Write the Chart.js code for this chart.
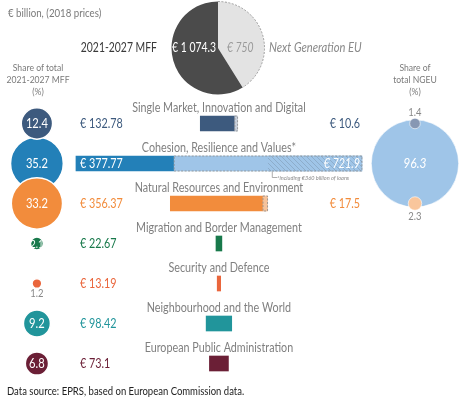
<!DOCTYPE html>
<html><head><meta charset="utf-8">
<script src="https://cdn.jsdelivr.net/npm/chart.js@4/dist/chart.umd.min.js"></script>
<style>
html,body{margin:0;padding:0;background:#fff;}
#wrap{position:relative;width:474px;height:404px;overflow:hidden;font-family:Lato,sans-serif;}
canvas{position:absolute;left:0;top:0;}
.t{position:absolute;white-space:nowrap;color:#7a7a7a;transform-origin:0 0;}
.h{position:absolute;text-align:center;font-size:10px;line-height:12px;color:#7a7a7a;transform:scaleX(0.86);transform-origin:50% 0;}
</style></head><body>
<div id="wrap">
<canvas id="main" width="474" height="404"></canvas>
<canvas id="pie" width="474" height="100"></canvas>
<div class="t" style="left:8px;top:6px;font-size:11px;transform:scaleX(0.88);">€ billion, (2018 prices)</div>
<div class="h" style="left:0;width:76px;top:61px;">Share of total<br>2021-2027 MFF<br>(%)</div>
<div class="h" style="left:384px;width:62px;top:61px;">Share of<br>total NGEU<br>(%)</div>
<div class="t" style="left:7px;top:385px;font-size:10.5px;color:#222;transform:scaleX(0.905);">Data source: EPRS, based on European Commission data.</div>
</div>
<script>
const categories = ['Single Market, Innovation and Digital','Cohesion, Resilience and Values*','Natural Resources and Environment','Migration and Border Management','Security and Defence','Neighbourhood and the World','European Public Administration'];
const mffValues = [132.78, 377.77, 356.37, 22.67, 13.19, 98.42, 73.1];
const ngeuValues = [10.6, 721.9, 17.5, 0, 0, 0, 0];
const ngeuLoans = [0, 360, 0, 0, 0, 0, 0];
const mffShares = [12.4, 35.2, 33.2, 2.1, 1.2, 9.2, 6.8];
const ngeuShares = [1.4, 96.3, 2.3, 0, 0, 0, 0];
const pieLabels = ['Next Generation EU', '2021-2027 MFF'];
const pieValues = [750, 1074.3];
const colors = ['#3d5a7e','#2380b8','#f28c3c','#18794b','#ea663c','#21959b','#6b1f36'];
const lightColors = ['#c9d1dd','#9fc5e8','#f6c39b','#cde','#cde','#cde','#cde'];
const ngeuBubbleColors = ['#8797b3','#9fc5e8','#f9c69c'];

const FONT = 'Lato, sans-serif';
const K = 4.45;          // bubble radius per sqrt(share)
const LEFT_COL = -700, RIGHT_COL = 754;
const CONDENSE = 0.86;

function fmt(v){
  const s = String(v).split('.');
  const int = s[0].replace(/\B(?=(\d{3})+(?!\d))/g,' ');
  return '€ ' + int + (s[1] ? '.' + s[1] : '');
}
function txt(ctx, s, x, y, font, color, align, cond){
  cond = cond || CONDENSE;
  ctx.save();
  ctx.font = font; ctx.fillStyle = color; ctx.textBaseline = 'middle';
  ctx.translate(x, y); ctx.scale(cond, 1);
  ctx.textAlign = align || 'left';
  ctx.fillText(s, 0, 0);
  ctx.restore();
}

const tot = i => mffValues[i] + ngeuValues[i];
const mffData = categories.map((c,i)=>({y:i, x:[-tot(i)/2, -tot(i)/2 + mffValues[i]]}));
const ngeuData = categories.map((c,i)=>({y:i, x:[-tot(i)/2 + mffValues[i], tot(i)/2]})).filter(d=>ngeuValues[d.y]>0);
const loanData = categories.map((c,i)=>({y:i, x:[tot(i)/2 - ngeuLoans[i], tot(i)/2]})).filter(d=>ngeuLoans[d.y]>0);
const leftOrder = categories.map((c,i)=>i).sort((a,b)=>mffShares[b]-mffShares[a]);
const leftBubbles = leftOrder.map(i=>({x:LEFT_COL, y:i, r:K*Math.sqrt(mffShares[i])}));
const rightOrder = categories.map((c,i)=>i).filter(i=>ngeuShares[i]>0).sort((a,b)=>ngeuShares[b]-ngeuShares[a]);
const rightBubbles = rightOrder.map(i=>({x:RIGHT_COL, y:i, r:K*Math.sqrt(ngeuShares[i])}));

// hatch pattern
const pc = document.createElement('canvas'); pc.width = 5; pc.height = 5;
const pctx = pc.getContext('2d');
pctx.fillStyle = '#9fc5e8'; pctx.fillRect(0,0,5,5);
pctx.strokeStyle = 'rgba(110,130,150,0.5)'; pctx.lineWidth = 0.7;
pctx.beginPath(); pctx.moveTo(-1,-1); pctx.lineTo(6,6); pctx.stroke();
const hatch = document.getElementById('main').getContext('2d').createPattern(pc,'repeat');

const labelPlugin = {
  id:'labels',
  afterDatasetsDraw(chart){
    const ctx = chart.ctx, ys = chart.scales.y, xs = chart.scales.x;
    const m1 = chart.getDatasetMeta(1);
    ctx.save();
    ctx.setLineDash([2,1.5]); ctx.strokeStyle = '#8a8a8a'; ctx.lineWidth = 0.8;
    m1.data.forEach(el=>{
      const p = el.getProps(['x','y','base','height'], true);
      ctx.strokeRect(p.base, p.y - p.height/2, p.x - p.base, p.height);
    });
    ctx.restore();
    const cx = xs.getPixelForValue(0);
    categories.forEach((c,i)=>{
      const y = ys.getPixelForValue(i);
      txt(ctx, c, cx, y - 15.5, '12.5px '+FONT, '#808080', 'center');
      const inside = mffValues[i] > 300 && ngeuValues[i] > 300;
      txt(ctx, fmt(mffValues[i]), 80, y, '13px '+FONT, inside ? '#fff' : colors[i], 'left', 0.83);
      if (ngeuValues[i] > 0) {
        const big = ngeuValues[i] > 300;
        txt(ctx, fmt(ngeuValues[i]), 360, y, (big?'italic ':'') + '13px '+FONT, big ? '#fff' : colors[i], 'right', 0.83);
      }
      if (ngeuLoans[i] > 0) {
        const lx = xs.getPixelForValue(tot(i)/2 - ngeuLoans[i]) + 4;
        ctx.save(); ctx.strokeStyle = '#999'; ctx.lineWidth = 0.8;
        ctx.beginPath(); ctx.moveTo(lx, y + 8); ctx.lineTo(lx, y + 14); ctx.lineTo(lx + 5, y + 14); ctx.stroke(); ctx.restore();
        txt(ctx, '*including €' + ngeuLoans[i] + ' billion of loans', lx + 5, y + 14, 'italic 6.5px '+FONT, '#888', 'left');
      }
      const r = K*Math.sqrt(mffShares[i]);
      if (r > 6) txt(ctx, String(mffShares[i]), xs.getPixelForValue(LEFT_COL), y + 0.5, (r>10?'13px ':'11px ')+FONT, '#fff', 'center');
      else txt(ctx, String(mffShares[i]), xs.getPixelForValue(LEFT_COL), y + r + 5, '11px '+FONT, '#888', 'center');
      if (ngeuShares[i] > 0) {
        const rr = K*Math.sqrt(ngeuShares[i]);
        const px = xs.getPixelForValue(RIGHT_COL);
        if (rr > 10) txt(ctx, String(ngeuShares[i]), px, y, 'italic 14px '+FONT, '#fff', 'center');
        else if (i === 0) txt(ctx, String(ngeuShares[i]), px, y - rr - 6, '11px '+FONT, '#888', 'center');
        else txt(ctx, String(ngeuShares[i]), px, y + rr + 6, '11px '+FONT, '#888', 'center');
      }
    });
  }
};

new Chart(document.getElementById('main'), {
  type:'bubble',
  data:{datasets:[
    {type:'bar', indexAxis:'y', data:mffData, grouped:false, barThickness:15, backgroundColor:ctx=>colors[ctx.raw.y], borderWidth:0, order:5},
    {type:'bar', indexAxis:'y', data:ngeuData, grouped:false, barThickness:15, backgroundColor:ctx=>lightColors[ctx.raw.y], borderWidth:0, order:4},
    {type:'bar', indexAxis:'y', data:loanData, grouped:false, barThickness:15, backgroundColor:hatch, borderWidth:0, order:3},
    {type:'bubble', data:leftBubbles, backgroundColor:ctx=>colors[ctx.raw.y], borderColor:'#fff', borderWidth:1.5, order:2},
    {type:'bubble', data:rightBubbles, backgroundColor:ctx=>ngeuBubbleColors[ctx.raw.y], borderColor:'rgba(255,255,255,0.6)', borderWidth:1, order:1}
  ]},
  options:{
    responsive:false, devicePixelRatio:1, animation:false,
    layout:{padding:0, autoPadding:false},
    scales:{
      x:{type:'linear', min:-842, max:981, display:false, offset:false, grace:0},
      y:{type:'linear', min:-3.0875, max:7.0125, reverse:true, display:false, offset:false, grace:0}
    },
    plugins:{legend:{display:false}, tooltip:{enabled:false}}
  },
  plugins:[labelPlugin]
});

const piePlugin = {
  id:'pieText',
  afterDatasetsDraw(chart){
    const ctx = chart.ctx;
    const el = chart.getDatasetMeta(0).data[0];
    ctx.save(); ctx.setLineDash([2,1.5]); ctx.strokeStyle='#8a8a8a'; ctx.lineWidth=0.8;
    ctx.beginPath(); ctx.arc(el.x, el.y, el.outerRadius, el.startAngle, el.endAngle); ctx.stroke(); ctx.restore();
    const y = el.y;
    txt(ctx, pieLabels[1], 157, y, '13px '+FONT, '#3a3a3a', 'right', 0.8);
    txt(ctx, fmt(pieValues[1]), 172, y, '13px '+FONT, '#fff', 'left', 0.8);
    txt(ctx, fmt(pieValues[0]), 227, y, 'italic 13px '+FONT, '#9a9a9a', 'left', 0.8);
    txt(ctx, pieLabels[0], 269, y, 'italic 13px '+FONT, '#8a8a8a', 'left', 0.86);
  }
};
new Chart(document.getElementById('pie'), {
  type:'pie',
  data:{labels:pieLabels, datasets:[{data:pieValues, backgroundColor:['#e3e3e3','#4b4b4b'], borderWidth:0}]},
  options:{responsive:false, devicePixelRatio:1, animation:false,
    layout:{padding:{left:171.5, right:209.5, top:1.5, bottom:5.5}},
    plugins:{legend:{display:false}, tooltip:{enabled:false}}},
  plugins:[piePlugin]
});
</script>
</body></html>
